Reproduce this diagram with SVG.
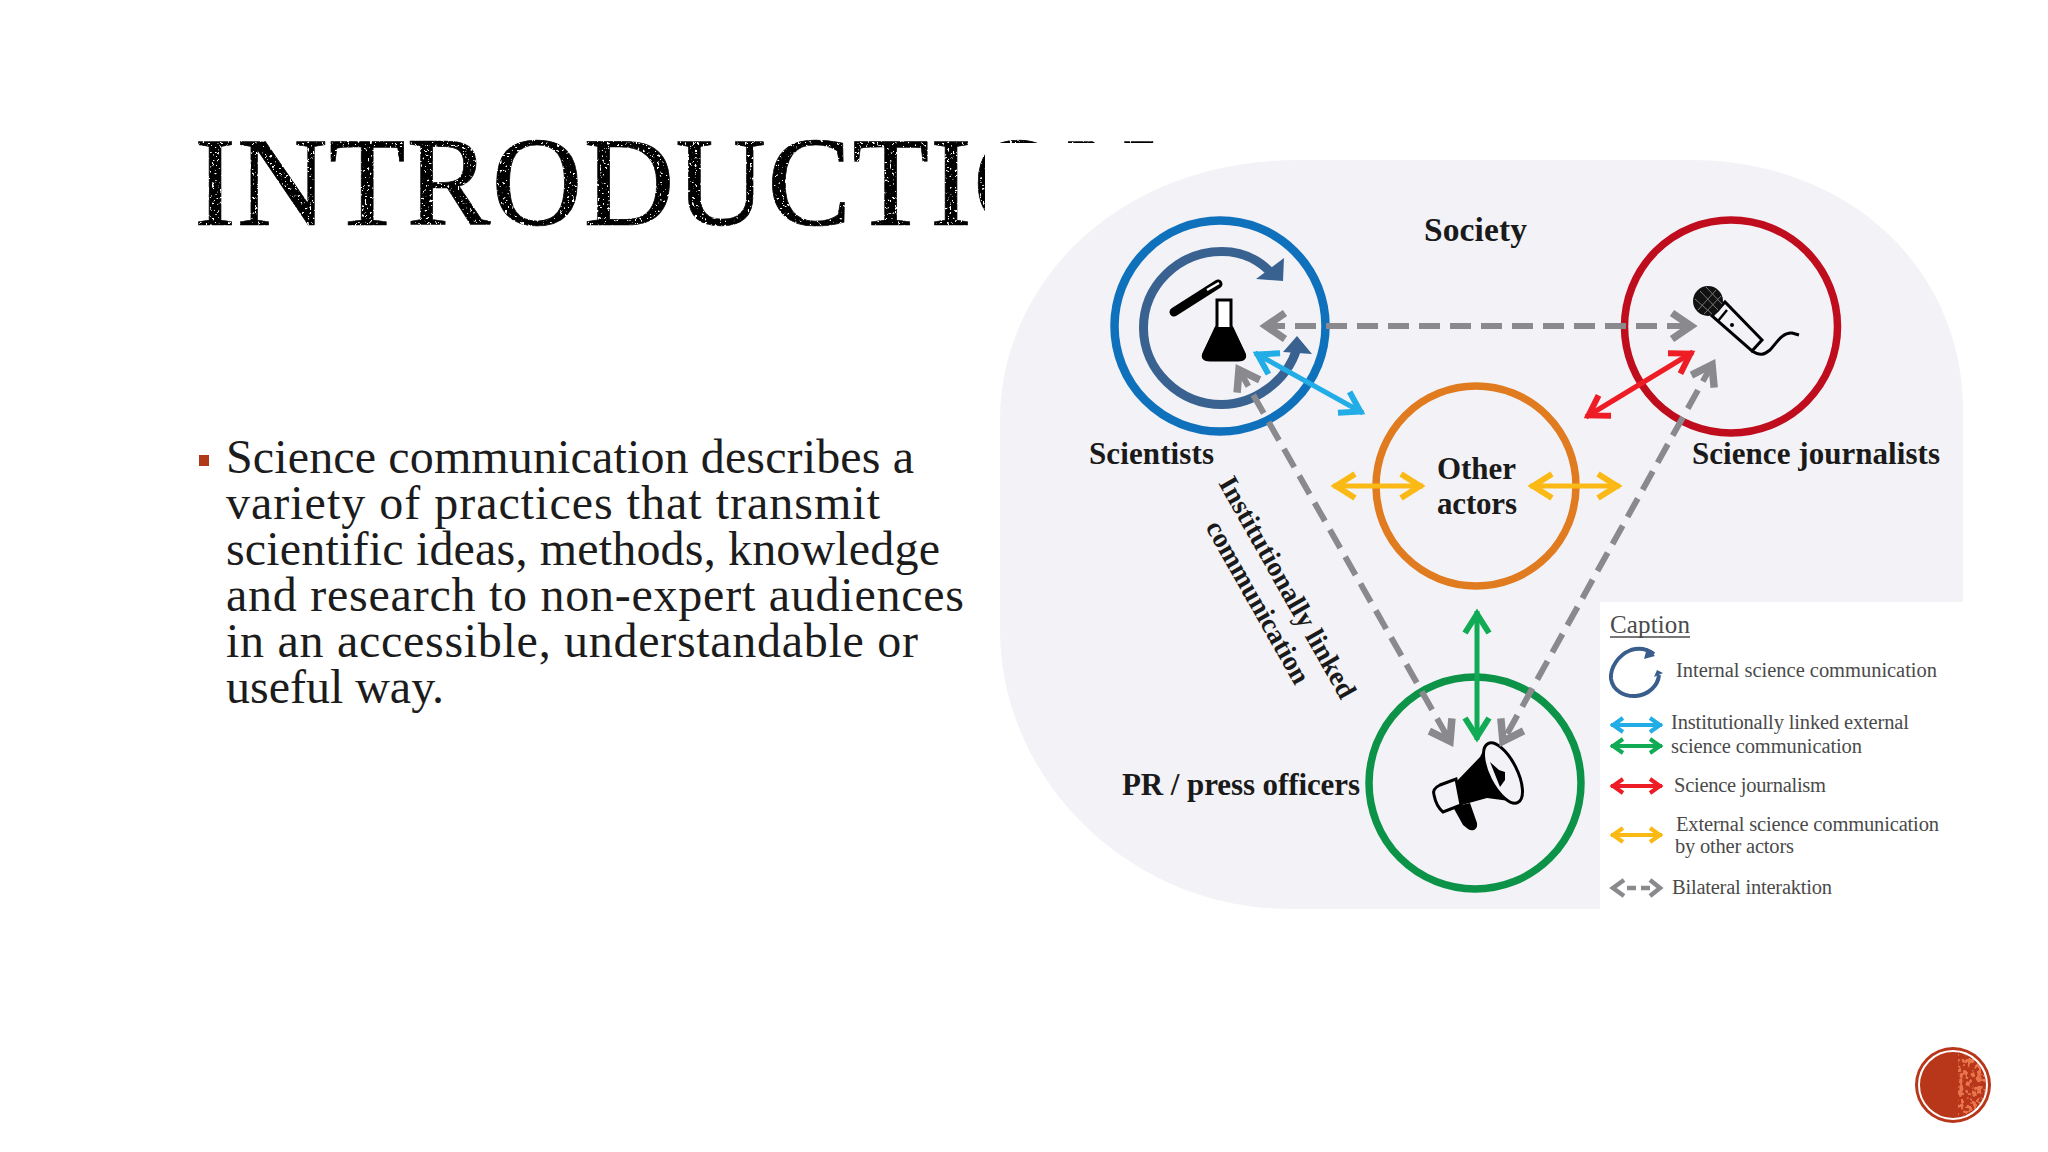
<svg xmlns="http://www.w3.org/2000/svg" width="2048" height="1152" viewBox="0 0 2048 1152">
<style>
.t{font-family:"Liberation Serif",serif}
.b{font-family:"Liberation Serif",serif;font-weight:bold;fill:#1a1a1a;font-size:31px}
.r{font-size:27.8px}
.l{font-family:"Liberation Serif",serif;fill:#4a4a4a;font-size:20.5px}
.body{font-family:"Liberation Serif",serif;font-size:48px;fill:#1c1c1c}
.ring{fill:none;stroke-width:7.5}
.g{fill:none;stroke:#8a8a8e;stroke-width:6;stroke-dasharray:21 10}
.a{fill:none;stroke-width:5}
.s{fill:none;stroke-width:4}
</style>
<defs>
<filter id="grunge" x="0" y="0" width="100%" height="100%">
<feTurbulence type="fractalNoise" baseFrequency="0.4" numOctaves="2" seed="4" result="n"/>
<feColorMatrix in="n" type="matrix" values="0 0 0 0 0 0 0 0 0 0 0 0 0 0 0 0 0 0 -12 8.6" result="m"/>
<feComposite in="SourceGraphic" in2="m" operator="in"/>
</filter>
<filter id="speck" x="0" y="0" width="100%" height="100%">
<feTurbulence type="fractalNoise" baseFrequency="0.22" numOctaves="2" seed="9" result="n"/>
<feColorMatrix in="n" type="matrix" values="0 0 0 0 0 0 0 0 0 0 0 0 0 0 0 0 0 0 14 -7" result="m"/>
<feComposite in="SourceGraphic" in2="m" operator="in"/>
</filter>
<clipPath id="btn"><circle cx="1953" cy="1085" r="33"/></clipPath>
<marker id="mg" markerUnits="userSpaceOnUse" markerWidth="40" markerHeight="40" refX="31" refY="20" orient="auto-start-reverse" viewBox="0 0 40 40"><path d="M10 7L29 20L10 33" fill="none" stroke="#8a8a8e" stroke-width="7.5"/></marker>
<marker id="mb" markerUnits="userSpaceOnUse" markerWidth="40" markerHeight="40" refX="32" refY="20" orient="auto-start-reverse" viewBox="0 0 40 40"><path d="M10 8L29 20L10 32" fill="none" stroke="#22ade6" stroke-width="6"/></marker>
<marker id="mn" markerUnits="userSpaceOnUse" markerWidth="40" markerHeight="40" refX="32" refY="20" orient="auto-start-reverse" viewBox="0 0 40 40"><path d="M10 8L29 20L10 32" fill="none" stroke="#12ab55" stroke-width="6"/></marker>
<marker id="mr" markerUnits="userSpaceOnUse" markerWidth="40" markerHeight="40" refX="32" refY="20" orient="auto-start-reverse" viewBox="0 0 40 40"><path d="M10 8L29 20L10 32" fill="none" stroke="#ee1c25" stroke-width="6"/></marker>
<marker id="my" markerUnits="userSpaceOnUse" markerWidth="40" markerHeight="40" refX="32" refY="20" orient="auto-start-reverse" viewBox="0 0 40 40"><path d="M10 8L29 20L10 32" fill="none" stroke="#fbb916" stroke-width="6"/></marker>
<marker id="lb" markerUnits="userSpaceOnUse" markerWidth="24" markerHeight="24" refX="19" refY="12" orient="auto-start-reverse" viewBox="0 0 24 24"><path d="M7 5L17 12L7 19" fill="none" stroke="#22ade6" stroke-width="4"/></marker>
<marker id="ln" markerUnits="userSpaceOnUse" markerWidth="24" markerHeight="24" refX="19" refY="12" orient="auto-start-reverse" viewBox="0 0 24 24"><path d="M7 5L17 12L7 19" fill="none" stroke="#12ab55" stroke-width="4"/></marker>
<marker id="lr" markerUnits="userSpaceOnUse" markerWidth="24" markerHeight="24" refX="19" refY="12" orient="auto-start-reverse" viewBox="0 0 24 24"><path d="M7 5L17 12L7 19" fill="none" stroke="#ee1c25" stroke-width="4"/></marker>
<marker id="ly" markerUnits="userSpaceOnUse" markerWidth="24" markerHeight="24" refX="19" refY="12" orient="auto-start-reverse" viewBox="0 0 24 24"><path d="M7 5L17 12L7 19" fill="none" stroke="#fbb916" stroke-width="4"/></marker>
</defs>
<rect width="2048" height="1152" fill="#fff"/>
<text id="title" class="t" x="194" y="225" font-size="126" letter-spacing="0.9" fill="#000" stroke="#000" stroke-width="0.7" filter="url(#grunge)">INTRODUCTION</text>
<g id="body">
<rect x="199" y="455" width="10" height="11" fill="#b0391a"/>
<text class="body" x="226" y="473" textLength="688">Science communication describes a</text>
<text class="body" x="226" y="519" textLength="654">variety of practices that transmit</text>
<text class="body" x="226" y="565" textLength="714">scientific ideas, methods, knowledge</text>
<text class="body" x="226" y="611" textLength="738">and research to non-expert audiences</text>
<text class="body" x="226" y="657" textLength="692">in an accessible, understandable or</text>
<text class="body" x="226" y="703" textLength="218">useful way.</text>
</g>
<rect x="985" y="143" width="1010" height="790" fill="#fff"/>
<path id="society-bg" d="M1000 420C1000 290 1110 160 1300 160H1690C1850 160 1963 270 1963 410V909H1290C1130 909 1000 780 1000 630Z" fill="#f3f3f7"/>
<rect id="caption-bg" x="1600" y="602" width="372" height="316" fill="#fff"/>
<g id="scientists">
<circle class="ring" style="stroke-width:8.5" cx="1220" cy="326" r="105.5" stroke="#0f71bb"/>
<path d="M1297 348C1287 382 1253 404.500 1222 404.500C1179 404.500 1143.500 370 1143.500 328C1143.500 286 1178 251.500 1222 251.500C1245 251.500 1262 262 1274 276" fill="none" stroke="#3a6291" stroke-width="9"/>
<path d="M1256 279L1284 258L1283 281Z M1297 336L1312 354L1283 352Z" fill="#3a6291"/>
<path d="M1174 312L1218 284" stroke="#000" stroke-width="9" stroke-linecap="round"/>
<path d="M1207 290L1219 283" stroke="#fff" stroke-width="2.500"/>
<path d="M1217 300H1231V326L1243 352C1247 358 1243 360 1238 360H1210C1205 360 1201 358 1205 352L1217 326Z" fill="#fff" stroke="#000" stroke-width="3"/>
<path d="M1215 327H1233L1245 352C1248 358 1243 360 1238 360H1208C1203 360 1200 358 1203 352Z" fill="#000"/>
</g>
<g id="journalists">
<circle class="ring" cx="1731" cy="326.500" r="106.500" stroke="#c00d1e"/>
<path d="M1712 316L1725 302L1762 340L1752 351Z" fill="#f3f3f7" stroke="#000" stroke-width="3"/>
<path d="M1752 351C1760 356 1764 355 1770 350C1776 344 1782 332 1792 333L1799 335" fill="none" stroke="#000" stroke-width="3"/>
<circle cx="1708" cy="301" r="15" fill="#111"/>
<path d="M1700 291L1718 310M1695 299L1712 314M1706 287L1722 304M1698 310L1716 290M1704 314L1721 296" stroke="#777" stroke-width="1"/>
<path d="M1718 321L1727 310" stroke="#000" stroke-width="2.500"/>
<circle cx="1732" cy="325" r="2" fill="#000"/>
</g>
<g id="other-actors">
<circle class="ring" cx="1476" cy="486" r="100" stroke="#e07b20"/>
<text class="b" x="1437" y="479" textLength="79">Other</text>
<text class="b" x="1437" y="514" textLength="80">actors</text>
</g>
<g id="pr">
<circle class="ring" cx="1475" cy="783" r="106" stroke="#0d9348"/>
<path d="M1453 807L1470 803L1477 823C1478 830 1472 832 1468 829L1463 825Z" fill="#000"/>
<path d="M1455 783L1480 757L1487 743L1517 802L1487 798L1458 806Z" fill="#000"/>
<path d="M1434 795C1432 790 1436 787 1440 785L1456 779L1461 805L1443 812C1438 808 1435 800 1434 795Z" fill="#f3f3f7" stroke="#000" stroke-width="3"/>
<ellipse cx="1503" cy="773" rx="14" ry="33" transform="rotate(-27 1503 773)" fill="#f3f3f7" stroke="#000" stroke-width="3"/>
<path d="M1490 762L1499 770L1505 772L1505 780L1500 787Z" fill="#000"/>
</g>
<g id="connectors">
<path class="g" d="M1264 326H1693" marker-start="url(#mg)" marker-end="url(#mg)"/>
<path class="g" d="M1238 368L1451 743" marker-start="url(#mg)" marker-end="url(#mg)"/>
<path class="g" d="M1713 363L1502 743" marker-start="url(#mg)" marker-end="url(#mg)"/>
<path class="a" stroke="#12ab55" d="M1477 611V740" marker-start="url(#mn)" marker-end="url(#mn)"/>
<path class="a" stroke="#22ade6" d="M1255 353L1363 413" marker-start="url(#mb)" marker-end="url(#mb)"/>
<path class="a" stroke="#ee1c25" d="M1693 352L1586 417" marker-start="url(#mr)" marker-end="url(#mr)"/>
<path class="a" stroke="#fbb916" d="M1333 486H1423" marker-start="url(#my)" marker-end="url(#my)"/>
<path class="a" stroke="#fbb916" d="M1530 486H1620" marker-start="url(#my)" marker-end="url(#my)"/>
</g>
<g id="labels">
<text class="b" style="font-size:33.5px" x="1424" y="241" textLength="103">Society</text>
<text class="b" x="1089" y="464" textLength="125">Scientists</text>
<text class="b" x="1692" y="464" textLength="248">Science journalists</text>
<text class="b" x="1122" y="795" textLength="238">PR / press officers</text>
<text class="b r" transform="translate(1218 483) rotate(60.500)" textLength="250">Institutionally linked</text>
<text class="b r" transform="translate(1205 527) rotate(60.500)" textLength="183">communication</text>
</g>
<g id="caption">
<text class="l" x="1610" y="633" style="font-size:25px" textLength="80">Caption</text>
<path d="M1610 637H1690" stroke="#4a4a4a" stroke-width="1.500"/>
<path d="M1654 654C1646 648 1638 648 1631 650C1618 655 1610 668 1611 679C1613 691 1625 697 1636 696C1648 695 1658 686 1659 675" fill="none" stroke="#3a5e8c" stroke-width="4"/>
<path d="M1647 648L1655 656L1644 659Z M1654 677L1663 673L1657 670Z" fill="#3a5e8c"/>
<path class="s" stroke="#22ade6" d="M1611 725H1662" marker-start="url(#lb)" marker-end="url(#lb)"/>
<path class="s" stroke="#12ab55" d="M1611 746H1662" marker-start="url(#ln)" marker-end="url(#ln)"/>
<path class="s" stroke="#ee1c25" d="M1611 786H1662" marker-start="url(#lr)" marker-end="url(#lr)"/>
<path class="s" stroke="#fbb916" d="M1611 835H1662" marker-start="url(#ly)" marker-end="url(#ly)"/>
<path d="M1624 880L1613 888L1624 896M1650 880L1660 888L1650 896" fill="none" stroke="#8a8a8e" stroke-width="4.500"/>
<path d="M1627 888H1650" stroke="#8a8a8e" stroke-width="4.500" stroke-dasharray="9 5"/>
<text class="l" x="1676" y="677" textLength="261">Internal science communication</text>
<text class="l" x="1671" y="729" textLength="238">Institutionally linked external</text>
<text class="l" x="1671" y="753" textLength="191">science communication</text>
<text class="l" x="1674" y="792" textLength="152">Science journalism</text>
<text class="l" x="1676" y="831" textLength="263">External science communication</text>
<text class="l" x="1675" y="853" textLength="119">by other actors</text>
<text class="l" x="1672" y="894" textLength="160">Bilateral interaktion</text>
</g>
<g id="page-button">
<circle cx="1953" cy="1085" r="38" fill="#b8361a"/>
<g clip-path="url(#btn)"><rect x="1958" y="1052" width="30" height="66" fill="#e8744c" filter="url(#speck)"/></g>
<circle cx="1953" cy="1085" r="34" fill="none" stroke="#fff" stroke-width="2"/>
</g>
</svg>
